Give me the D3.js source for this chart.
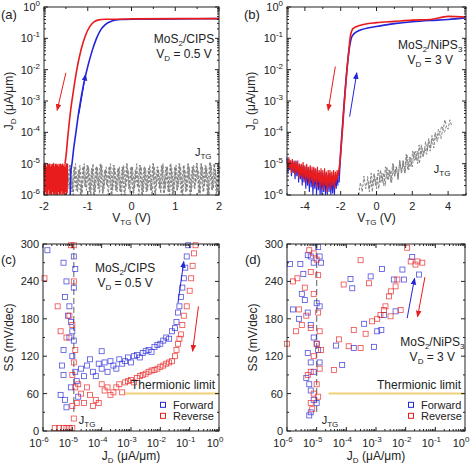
<!DOCTYPE html>
<html><head><meta charset="utf-8">
<script src="https://cdn.jsdelivr.net/npm/d3@7"></script>
<style>body{margin:0;background:#fff}text{font-family:Arial,"Liberation Sans",sans-serif;fill:#222}</style>
</head><body><svg id="fig" width="474" height="467"></svg>
<script>
// ---- data (J values as log10 exponents) ----
var fwdA = [[-1.4,-6.0],[-1.39,-5.3],[-1.36,-5.0],[-1.32,-4.5],[-1.27,-4.0],[-1.2,-3.3],[-1.1,-2.5],[-1.0,-1.9],[-0.9,-1.4],[-0.8,-1.0],[-0.7,-0.72],[-0.6,-0.56],[-0.45,-0.45],[-0.25,-0.4],[0,-0.39],[1,-0.38],[2,-0.37]];
var revA = [[2,-0.37],[0,-0.38],[-0.6,-0.39],[-0.75,-0.41],[-0.85,-0.47],[-0.95,-0.62],[-1.05,-0.9],[-1.15,-1.35],[-1.25,-2.0],[-1.33,-2.7],[-1.4,-3.4],[-1.46,-4.2],[-1.5,-4.8],[-1.52,-5.0]];
var redNoiseA = [-5.0,-6.0,-5.05,-5.9,-5.0,-6.0,-5.1,-5.95,-5.0,-6.0,-5.02,-5.85,-5.0,-6.0,-5.1,-5.97,-5.0,-6.0,-5.05,-5.9,-5.0,-6.0,-5.0,-5.95,-5.08,-6.0,-5.0,-5.92,-5.0,-6.0,-5.05,-6.0,-5.0,-5.9,-5.1,-6.0,-5.0,-5.96,-5.0,-6.0,-5.04,-5.88,-5.0,-6.0,-5.06,-5.95,-5.0,-6.0,-5.1,-5.9,-5.0,-6.0,-5.02,-5.94,-5.0];
var grayA = [-5.1,-5.9,-5.2,-5.8,-5.05,-6.0,-5.15,-5.7,-5.1,-5.95,-5.2,-5.6,-5.05,-5.9,-5.1,-5.85,-5.2,-6.0,-5.1,-5.75,-5.05,-5.9,-5.15,-6.0,-5.1,-5.8,-5.0,-5.95,-5.2,-5.7,-5.1,-6.0,-5.05,-5.85,-5.15,-5.9,-5.1,-6.0,-5.0,-5.8,-5.1,-5.95,-5.2,-5.75,-5.05,-6.0,-5.1,-5.9,-5.15,-5.85,-5.0,-6.0,-5.1,-5.8,-5.05,-5.95,-5.1,-5.9,-5.0,-6.0,-5.1,-5.85,-5.0,-5.95,-5.05,-5.9,-5.0,-6.0,-5.1,-5.8,-4.98,-5.95,-5.0,-5.9,-5.05,-6.0,-4.95,-5.85,-5.0,-5.95,-4.95];
var fwdB = [[-2.1,-5.6],[-2.0,-4.6],[-1.9,-3.8],[-1.8,-3.0],[-1.7,-2.3],[-1.6,-1.7],[-1.5,-1.25],[-1.4,-0.98],[-1.25,-0.85],[-1.0,-0.76],[0,-0.62],[1,-0.53],[2,-0.47],[3,-0.43],[4,-0.4],[5,-0.34]];
var revB = [[5,-0.32],[4,-0.3],[3,-0.4],[2,-0.42],[1,-0.46],[0,-0.5],[-1.0,-0.6],[-1.3,-0.68],[-1.45,-0.9],[-1.55,-1.4],[-1.65,-2.0],[-1.75,-2.7],[-1.85,-3.5],[-1.95,-4.3],[-2.05,-5.0],[-2.15,-5.4]];
var blueNoiseB = [-4.8,-5.3,-4.85,-5.2,-4.9,-5.4,-4.9,-5.3,-4.95,-5.5,-4.9,-5.4,-5.0,-5.6,-5.0,-5.5,-5.05,-5.7,-5.05,-5.6,-5.1,-5.8,-5.1,-5.7,-5.15,-5.9,-5.1,-5.75,-5.2,-6.0,-5.15,-5.8,-5.2,-6.0,-5.2,-5.85,-5.3,-6.0,-5.25,-6.0,-5.3,-5.9,-5.3,-6.0,-5.3,-6.0,-5.35,-5.9,-5.3,-6.0,-5.4,-5.95,-5.35,-6.0,-5.3,-5.8,-5.4,-5.7];
var redNoiseB = [-4.85,-5.2,-4.8,-5.15,-4.9,-5.3,-4.85,-5.25,-4.9,-5.35,-4.95,-5.3,-4.9,-5.45,-5.0,-5.4,-5.0,-5.5,-4.95,-5.45,-5.05,-5.6,-5.0,-5.5,-5.1,-5.65,-5.05,-5.55,-5.1,-5.7,-5.1,-5.6,-5.15,-5.75,-5.1,-5.6,-5.2,-5.8,-5.15,-5.7,-5.2,-5.85,-5.15,-5.7,-5.25,-5.9,-5.2,-5.75,-5.2,-5.8,-5.25,-5.7,-5.2,-5.8,-5.25,-5.6,-5.2,-5.5];
var grayB = [-6.0,-5.6,-5.9,-5.4,-5.8,-5.5,-5.9,-5.3,-5.7,-5.4,-5.8,-5.2,-5.6,-5.3,-5.7,-5.1,-5.5,-5.2,-5.6,-5.0,-5.4,-5.1,-5.5,-4.9,-5.3,-4.9,-5.3,-4.7,-5.2,-4.8,-5.1,-4.6,-4.9,-4.6,-5.0,-4.4,-4.8,-4.5,-4.7,-4.3,-4.6,-4.2,-4.5,-4.1,-4.3,-4.0,-4.2,-3.9,-4.0,-3.8,-3.9,-3.6,-3.8];
var fwdC = [[-5.85,290],[-5.3,270],[-5.2,240],[-5.25,215],[-5.1,200],[-5.15,185],[-5.05,175],[-4.95,280],[-4.9,260],[-4.95,230],[-5.0,160],[-5.1,150],[-5.3,130],[-5.35,105],[-5.3,90],[-5.4,58],[-5.25,50],[-5.2,38],[-4.95,145],[-5.0,120],[-4.9,95],[-4.85,80],[-5.05,70],[-4.8,55],[-4.7,100],[-4.6,88],[-4.5,105],[-4.4,115],[-4.3,95],[-4.2,88],[-4.1,108],[-4.0,128],[-4.0,100],[-3.9,110],[-3.8,95],[-3.7,112],[-3.6,105],[-3.5,100],[-3.4,115],[-3.3,108],[-3.2,112],[-3.1,118],[-3.0,110],[-2.9,120],[-2.8,122],[-2.7,118],[-2.6,125],[-2.5,128],[-2.4,130],[-2.3,127],[-2.2,135],[-2.1,138],[-2.0,140],[-1.9,145],[-1.8,150],[-1.7,148],[-1.6,160],[-1.5,165],[-1.45,175],[-1.4,190],[-1.35,200],[-1.3,215],[-1.25,230],[-1.2,245],[-1.15,262],[-1.1,280],[-1.05,298]];
var revC = [[-5.6,5],[-5.45,5],[-5.3,5],[-5.2,5],[-5.1,5],[-5.0,5],[-5.95,245],[-5.5,200],[-5.4,160],[-5.2,150],[-5.1,185],[-5.0,170],[-4.95,240],[-5.05,298],[-4.95,298],[-4.9,130],[-4.95,110],[-5.0,90],[-4.9,70],[-4.85,45],[-5.0,40],[-4.95,20],[-4.8,75],[-4.7,60],[-4.6,45],[-4.5,70],[-4.4,58],[-4.3,40],[-4.2,50],[-4.1,45],[-4.0,75],[-3.9,65],[-3.8,70],[-3.7,58],[-3.6,62],[-3.5,70],[-3.4,75],[-3.3,62],[-3.2,78],[-3.1,80],[-3.0,82],[-2.9,78],[-2.8,85],[-2.7,88],[-2.6,90],[-2.5,92],[-2.4,95],[-2.3,97],[-2.2,98],[-2.1,100],[-2.0,103],[-1.9,105],[-1.8,108],[-1.7,110],[-1.6,112],[-1.5,120],[-1.45,130],[-1.4,140],[-1.35,148],[-1.3,155],[-1.25,170],[-1.2,185],[-1.1,200],[-1.0,225],[-0.95,245],[-0.9,265],[-0.85,285],[-0.8,298]];
var fwdD = [[-5.9,268],[-5.55,268],[-5.45,252],[-5.3,282],[-5.2,280],[-5.1,270],[-4.95,295],[-4.9,280],[-4.85,270],[-5.5,220],[-5.4,210],[-5.3,190],[-5.8,195],[-5.6,180],[-5.2,170],[-5.0,205],[-4.9,200],[-5.1,150],[-5.0,140],[-5.3,125],[-5.2,110],[-5.1,95],[-5.35,85],[-5.25,75],[-5.2,65],[-5.1,50],[-5.0,45],[-5.2,30],[-5.25,25],[-4.9,110],[-4.95,130],[-4.35,137],[-4.14,106],[-3.86,244],[-3.8,229],[-3.18,248],[-3.07,135],[-2.8,260],[-2.73,186],[-2.4,243],[-2.11,259],[-2.06,243],[-1.78,279],[-1.55,251],[-2.34,192],[-2.82,162],[-2.96,160],[-3.4,172],[-3.75,133]];
var revD = [[-6.0,140],[-5.8,240],[-5.7,160],[-5.6,195],[-5.65,245],[-5.5,170],[-5.4,230],[-5.35,185],[-5.25,290],[-5.1,285],[-5.0,275],[-5.2,255],[-4.95,250],[-5.1,220],[-4.95,190],[-5.2,165],[-5.0,140],[-5.1,120],[-4.9,100],[-5.2,95],[-5.3,90],[-5.0,75],[-5.1,60],[-4.95,55],[-5.2,45],[-5.15,35],[-4.85,130],[-4.9,160],[-3.52,274],[-3.24,237],[-4.09,235],[-4.42,98],[-4.25,147],[-3.92,136],[-3.75,162],[-3.52,133],[-3.35,156],[-3.13,176],[-2.96,180],[-2.85,186],[-2.73,194],[-2.56,216],[-2.5,224],[-2.34,232],[-2.28,243],[-2.17,194],[-1.95,294],[-1.83,272],[-1.6,272],[-1.44,270],[-1.67,267],[-2.68,200],[-2.51,184]];
var ssTicks = [0, 60, 120, 180, 240, 300];

var BLUE = "#2424d8", RED = "#e81c1c", GRAY = "#7a7a7a";
var svg = d3.select("#fig");
svg.append("defs").selectAll("marker").data([["mb", BLUE], ["mr", RED]]).join("marker")
  .attr("id", d => d[0]).attr("viewBox", "0 0 10 10").attr("refX", 9).attr("refY", 5)
  .attr("markerWidth", 7).attr("markerHeight", 7).attr("orient", "auto")
  .append("path").attr("d", "M0,1L10,5L0,9z").attr("fill", d => d[1]);

function sup(t, base, exp) {
  t.append("tspan").text(base);
  t.append("tspan").attr("dy", -5).attr("font-size", "8px").text(exp);
}
function sub(t, base, s, rest) {
  t.append("tspan").text(base);
  t.append("tspan").attr("dy", 3).attr("font-size", "8px").text(s);
  if (rest) t.append("tspan").attr("dy", -3).text(rest);
}

function frame(g, w, h) {
  g.append("rect").attr("width", w).attr("height", h).attr("fill", "none").attr("stroke", "#222").attr("stroke-width", 1);
}

function logTicksY(g, y, w, lo, hi) {
  for (var e = lo; e <= hi; e++) {
    var yy = y(e);
    g.append("line").attr("x1", 0).attr("x2", 4).attr("y1", yy).attr("y2", yy).attr("stroke", "#222");
    g.append("line").attr("x1", w).attr("x2", w - 4).attr("y1", yy).attr("y2", yy).attr("stroke", "#222");
    var t = g.append("text").attr("x", -4).attr("y", yy + 4).attr("text-anchor", "end").attr("font-size", "11px");
    sup(t, "10", e);
    if (e < hi) for (var m = 2; m < 10; m++) {
      var ym = y(e + Math.log10(m));
      g.append("line").attr("x1", 0).attr("x2", 2).attr("y1", ym).attr("y2", ym).attr("stroke", "#222");
      g.append("line").attr("x1", w).attr("x2", w - 2).attr("y1", ym).attr("y2", ym).attr("stroke", "#222");
    }
  }
}
function logTicksX(g, x, h, lo, hi) {
  for (var e = lo; e <= hi; e++) {
    var xx = x(e);
    g.append("line").attr("x1", xx).attr("x2", xx).attr("y1", h).attr("y2", h - 4).attr("stroke", "#222");
    g.append("line").attr("x1", xx).attr("x2", xx).attr("y1", 0).attr("y2", 4).attr("stroke", "#222");
    var t = g.append("text").attr("x", xx - 4).attr("y", h + 16).attr("text-anchor", "middle").attr("font-size", "11px");
    sup(t, "10", e);
    if (e < hi) for (var m = 2; m < 10; m++) {
      var xm = x(e + Math.log10(m));
      g.append("line").attr("x1", xm).attr("x2", xm).attr("y1", h).attr("y2", h - 2).attr("stroke", "#222");
      g.append("line").attr("x1", xm).attr("x2", xm).attr("y1", 0).attr("y2", 2).attr("stroke", "#222");
    }
  }
}
function linTicksX(g, x, h, ticks, minor) {
  minor.forEach(v => {
    g.append("line").attr("x1", x(v)).attr("x2", x(v)).attr("y1", h).attr("y2", h - 2).attr("stroke", "#222");
    g.append("line").attr("x1", x(v)).attr("x2", x(v)).attr("y1", 0).attr("y2", 2).attr("stroke", "#222");
  });
  ticks.forEach(v => {
    g.append("line").attr("x1", x(v)).attr("x2", x(v)).attr("y1", h).attr("y2", h - 4).attr("stroke", "#222");
    g.append("line").attr("x1", x(v)).attr("x2", x(v)).attr("y1", 0).attr("y2", 4).attr("stroke", "#222");
    g.append("text").attr("x", x(v)).attr("y", h + 15).attr("text-anchor", "middle").attr("font-size", "11px").text(v);
  });
}
function linTicksY(g, y, w, ticks) {
  ticks.forEach((v, i) => {
    g.append("line").attr("x1", 0).attr("x2", 4).attr("y1", y(v)).attr("y2", y(v)).attr("stroke", "#222");
    g.append("line").attr("x1", w).attr("x2", w - 4).attr("y1", y(v)).attr("y2", y(v)).attr("stroke", "#222");
    if (i < ticks.length - 1) {
      var mv = (v + ticks[i + 1]) / 2;
      g.append("line").attr("x1", 0).attr("x2", 2).attr("y1", y(mv)).attr("y2", y(mv)).attr("stroke", "#222");
      g.append("line").attr("x1", w).attr("x2", w - 2).attr("y1", y(mv)).attr("y2", y(mv)).attr("stroke", "#222");
    }
    g.append("text").attr("x", -4).attr("y", y(v) + 4).attr("text-anchor", "end").attr("font-size", "11px").text(v);
  });
}
function noisePath(g, x, y, x0, step, vals, color, w, dash) {
  var pts = vals.map((v, i) => [x0 + i * step, v]);
  var p = g.append("path").attr("d", d3.line().x(d => x(d[0])).y(d => y(d[1]))(pts))
    .attr("fill", "none").attr("stroke", color).attr("stroke-width", w);
  if (dash) p.attr("stroke-dasharray", dash);
}
function curve(g, x, y, data, color) {
  g.append("path").attr("d", d3.line().x(d => x(d[0])).y(d => y(d[1])).curve(d3.curveMonotoneX)(data.slice().sort((a, b) => a[0] - b[0])))
    .attr("fill", "none").attr("stroke", color).attr("stroke-width", 1.6);
}
function arrow(g, x1, y1, x2, y2, m, color) {
  g.append("line").attr("x1", x1).attr("y1", y1).attr("x2", x2).attr("y2", y2)
    .attr("stroke", color).attr("stroke-width", 1).attr("marker-end", "url(#" + m + ")");
}
function squares(g, x, y, data, color) {
  g.selectAll(null).data(data).join("rect")
    .attr("x", d => x(d[0]) - 2.5).attr("y", d => y(d[1]) - 2.5).attr("width", 5).attr("height", 5)
    .attr("fill", "none").attr("stroke", color).attr("stroke-width", 0.8).attr("opacity", 0.8);
}
function label(x, y, s) { svg.append("text").attr("x", x).attr("y", y).attr("font-size", "13px").text(s); }
function yTitleJ(x, cy) {
  var t = svg.append("text").attr("transform", `translate(${x},${cy}) rotate(-90)`).attr("text-anchor", "middle").attr("font-size", "12px");
  sub(t, "J", "D", " (\u03bcA/\u03bcm)");
}
function yTitleSS(x, cy) {
  svg.append("text").attr("transform", `translate(${x},${cy}) rotate(-90)`).attr("text-anchor", "middle").attr("font-size", "12px").text("SS (mV/dec)");
}
function textSub(g, x, y, a, b, c, anchor, fs) {
  var t = g.append("text").attr("x", x).attr("y", y).attr("text-anchor", anchor || "middle").attr("font-size", (fs || 12) + "px");
  sub(t, a, b, c);
  return t;
}
function material(g, x, y, dev, vd) {
  var t = g.append("text").attr("x", x).attr("y", y).attr("text-anchor", "middle").attr("font-size", "12px");
  t.append("tspan").text("MoS");
  t.append("tspan").attr("dy", 3).attr("font-size", "8px").text("2");
  t.append("tspan").attr("dy", -3).text(dev[0]);
  if (dev[1]) { t.append("tspan").attr("dy", 3).attr("font-size", "8px").text(dev[1]); }
  textSub(g, x, y + 15, "V", "D", " = " + vd);
}

var P = {
  a: {l: 44, t: 7, w: 175, h: 188},
  b: {l: 287, t: 7, w: 179, h: 188},
  c: {l: 43, t: 244, w: 176, h: 187},
  d: {l: 287, t: 244, w: 178, h: 187}
};

// ---------- (a) ----------
(function () {
  var p = P.a, g = svg.append("g").attr("transform", `translate(${p.l},${p.t})`);
  var x = d3.scaleLinear().domain([-2, 2]).range([0, p.w]);
  var y = d3.scaleLinear().domain([-6, 0]).range([p.h, 0]);
  var cg = g.append("g");
  noisePath(cg, x, y, -2, 0.05, grayA, GRAY, 0.9, "3,1.5");
  noisePath(cg, x, y, -1.98, 0.05, grayA.slice().reverse(), GRAY, 0.9, "3,1.5");
  noisePath(cg, x, y, -1.965, 0.05, grayA.slice(1), GRAY, 0.9, "2,2");
  noisePath(cg, x, y, -2, 0.01, redNoiseA, RED, 1.2);
  curve(cg, x, y, fwdA, BLUE);
  curve(cg, x, y, revA, RED);
  arrow(g, x(-1.5), y(-2.1), x(-1.7), y(-3.3), "mr", RED);
  arrow(g, x(-1.2), y(-3.4), x(-1.05), y(-2.15), "mb", BLUE);
  material(g, x(1.2), 36, ["/CIPS"], "0.5 V");
  textSub(g, x(1.45), y(-4.75), "J", "TG", null, "start", 11);
  frame(g, p.w, p.h);
  logTicksY(g, y, p.w, -6, 0);
  linTicksX(g, x, p.h, [-2, -1, 0, 1, 2], [-1.5, -0.5, 0.5, 1.5]);
  label(1, 19, "(a)");
  yTitleJ(13, p.t + p.h / 2);
  textSub(svg, p.l + p.w / 2, 222, "V", "TG", " (V)");
})();

// ---------- (b) ----------
(function () {
  var p = P.b, g = svg.append("g").attr("transform", `translate(${p.l},${p.t})`);
  var x = d3.scaleLinear().domain([-5, 5]).range([0, p.w]);
  var y = d3.scaleLinear().domain([-6, 0]).range([p.h, 0]);
  var cg = g.append("g");
  noisePath(cg, x, y, -1.0, 0.1, grayB, GRAY, 0.9, "3,1.5");
  noisePath(cg, x, y, -0.5, 0.09, grayB.slice(3), GRAY, 0.9, "3,1.5");
  noisePath(cg, x, y, -5, 0.05, blueNoiseB, BLUE, 1.1);
  noisePath(cg, x, y, -5, 0.05, redNoiseB, RED, 1.1);
  curve(cg, x, y, fwdB, BLUE);
  curve(cg, x, y, revB, RED);
  arrow(g, x(-2.3), y(-1.9), x(-2.7), y(-3.3), "mr", RED);
  arrow(g, x(-1.5), y(-3.5), x(-1.1), y(-2.1), "mb", BLUE);
  material(g, x(3), 42, ["/NiPS", "3"], "3 V");
  textSub(g, x(3.2), y(-5.3), "J", "TG", null, "start", 11);
  frame(g, p.w, p.h);
  logTicksY(g, y, p.w, -6, 0);
  linTicksX(g, x, p.h, [-4, -2, 0, 2, 4], [-5, -3, -1, 1, 3, 5]);
  label(244, 19, "(b)");
  yTitleJ(255, p.t + p.h / 2);
  textSub(svg, p.l + p.w / 2, 222, "V", "TG", " (V)");
})();

// ---------- (c) & (d) ----------
function ssPanel(p, fwd, rev, jtgX, thermFrom, lab, lx, opts) {
  var g = svg.append("g").attr("transform", `translate(${p.l},${p.t})`);
  var x = d3.scaleLinear().domain([-6, 0]).range([0, p.w]);
  var y = d3.scaleLinear().domain([0, 300]).range([p.h, 0]);
  g.append("line").attr("x1", x(jtgX)).attr("x2", x(jtgX)).attr("y1", y(300)).attr("y2", y(28))
    .attr("stroke", GRAY).attr("stroke-width", 1.2).attr("stroke-dasharray", "6,3");
  g.append("line").attr("x1", x(thermFrom)).attr("x2", x(-0.03)).attr("y1", y(60)).attr("y2", y(60))
    .attr("stroke", "#efd27a").attr("stroke-width", 2);
  squares(g, x, y, fwd, BLUE);
  squares(g, x, y, rev, RED);
  g.append("text").attr("x", p.w - 4).attr("y", y(68)).attr("text-anchor", "end").attr("font-size", "12px").text("Thermionic limit");
  textSub(g, x(jtgX) + 5, y(12), "J", "TG", null, "start", 11);
  [["Forward", BLUE], ["Reverse", RED]].forEach((d, i) => {
    var yy = y(42) + i * 11;
    g.append("rect").attr("x", opts.legX - 2.5).attr("y", yy - 2.5).attr("width", 5).attr("height", 5)
      .attr("fill", "none").attr("stroke", d[1]);
    g.append("text").attr("x", opts.legX + 10).attr("y", yy + 4).attr("font-size", "11px").text(d[0]);
  });
  opts.extra(g, x, y);
  frame(g, p.w, p.h);
  linTicksY(g, y, p.w, ssTicks);
  logTicksX(g, x, p.h, -6, 0);
  label(lx, p.t + 20, lab);
  yTitleSS(lx + 12, p.t + p.h / 2);
  textSub(svg, p.l + p.w / 2, 460, "J", "D", " (\u03bcA/\u03bcm)");
}
ssPanel(P.c, fwdC, revC, -4.95, -3.2, "(c)", 1, {legX: 120, extra: function (g, x, y) {
  material(g, x(-3.2), 28, ["/CIPS"], "0.5 V");
  arrow(g, x(-1.4), y(205), x(-1.2), y(272), "mb", BLUE);
  arrow(g, x(-0.7), y(200), x(-0.9), y(128), "mr", RED);
}});
ssPanel(P.d, fwdD, revD, -5.0, -4.6, "(d)", 245, {legX: 124, extra: function (g, x, y) {
  material(g, x(-1.1), 102, ["/NiPS", "3"], "3 V");
  arrow(g, x(-1.95), y(181), x(-1.7), y(245), "mb", BLUE);
  arrow(g, x(-1.35), y(247), x(-1.6), y(183), "mr", RED);
}});
</script></body></html>
